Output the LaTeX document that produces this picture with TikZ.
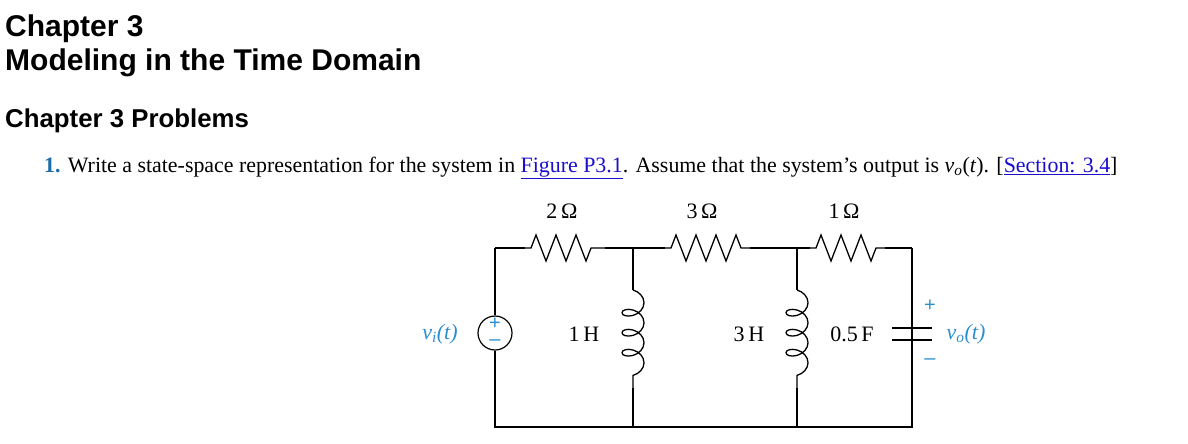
\documentclass[tikz,border=0pt]{standalone}
\usepackage{fontspec}
\setmainfont{Liberation Serif}
\newfontfamily\hsans{Liberation Sans}
\usetikzlibrary{decorations.pathmorphing}
\definecolor{lnk}{HTML}{1A0DCC}
\definecolor{num}{HTML}{1B6DA8}
\definecolor{cy}{HTML}{2A8FD0}
\begin{document}
\begin{tikzpicture}[x=1pt,y=-1pt,
  wire/.style={line width=1.3pt},
  res/.style={wire,decorate,decoration={zigzag,segment length=20pt,amplitude=13pt,pre length=6pt,post length=6pt}},
  ind/.style={wire,decorate,decoration={coil,segment length=20pt,amplitude=11pt,aspect=0.7,pre length=0pt,post length=0pt}},
  lab/.style={inner sep=0pt,font=\fontsize{22}{22}\selectfont},
  cyl/.style={lab,text=cy,font=\fontsize{22}{22}\selectfont\itshape},
  pm/.style={text=cy,font=\hsans\fontsize{20}{20}\selectfont,inner sep=0}]
\useasboundingbox (0,0) rectangle (1188,444);
\node[anchor=west,inner sep=0,font=\hsans\bfseries\fontsize{30}{30}\selectfont] (h1) at (5,29) {Chapter 3};
\node[anchor=west,inner sep=0,font=\hsans\bfseries\fontsize{30}{30}\selectfont] (h2) at (5,63) {Modeling in the Time Domain};
\node[anchor=west,inner sep=0,font=\hsans\bfseries\fontsize{25.8}{25.8}\selectfont] (h3) at (5,121) {Chapter 3 Problems};
\node[anchor=west,inner sep=0,font=\fontsize{21.9}{21.9}\selectfont] (q) at (44,168) {\textcolor{num}{\textbf{1.}} Write a state-space representation for the system in \textcolor{lnk}{\underline{Figure P3.1}}. Assume that the system's output is \textit{v\textsubscript{o}}(\textit{t}). [\textcolor{lnk}{\underline{Section: 3.4}}]};
% nodes
\coordinate (tl) at (495,248); \coordinate (bl) at (495,427);
\coordinate (t1) at (633,248); \coordinate (b1) at (633,427);
\coordinate (t2) at (797,248); \coordinate (b2) at (797,427);
\coordinate (tr) at (912,248); \coordinate (br) at (912,427);
\node[circle,draw,line width=1.2pt,minimum size=34pt,inner sep=0] (src) at (495,333) {};
\node[pm] (sp) at (495,324) {+};
\node[pm] (sm) at (495,343) {\textendash};
\draw[wire] (tl) -- (src.north); \draw[wire] (src.south) -- (bl) -- (br) -- (tr);
\draw[wire] (tl) -- (525,248); \draw[res] (525,248) -- (605,248); \draw[wire] (605,248) -- (t1) -- (665,248);
\draw[res] (665,248) -- (750,248); \draw[wire] (750,248) -- (t2) -- (810,248);
\draw[res] (810,248) -- (885,248); \draw[wire] (885,248) -- (tr);
% capacitor
\coordinate (c1) at (912,328); \coordinate (c2) at (912,340);
\draw[wire] (tr) -- (c1); \draw[wire] (c2) -- (br);
\draw[wire] (892,328) -- (932,328); \draw[wire] (892,340) -- (932,340);
% inductors
\coordinate (i1a) at (633,290); \coordinate (i1b) at (633,388);
\coordinate (i2a) at (797,290); \coordinate (i2b) at (797,388);
\draw[wire] (t1) -- (i1a); \draw[ind] (i1a) -- (i1b); \draw[wire] (i1b) -- (b1);
\draw[wire] (t2) -- (i2a); \draw[ind] (i2a) -- (i2b); \draw[wire] (i2b) -- (b2);
\node[lab] (r1) at (562,211) {2\,Ω};
\node[lab] (r2) at (702,211) {3\,Ω};
\node[lab] (r3) at (844,211) {1\,Ω};
\node[lab] (l1) at (584,334) {1\,H};
\node[lab] (l2) at (749,334) {3\,H};
\node[lab] (cc) at (852,334) {0.5\,F};
\node[cyl] (vi) at (440,334) {v\textsubscript{\textit{i}}(t)};
\node[cyl] (vo) at (966,334) {v\textsubscript{\textit{o}}(t)};
\node[pm] (op) at (930,306) {+};
\node[pm] (om) at (930,362) {\textendash};
\end{tikzpicture}
\end{document}
